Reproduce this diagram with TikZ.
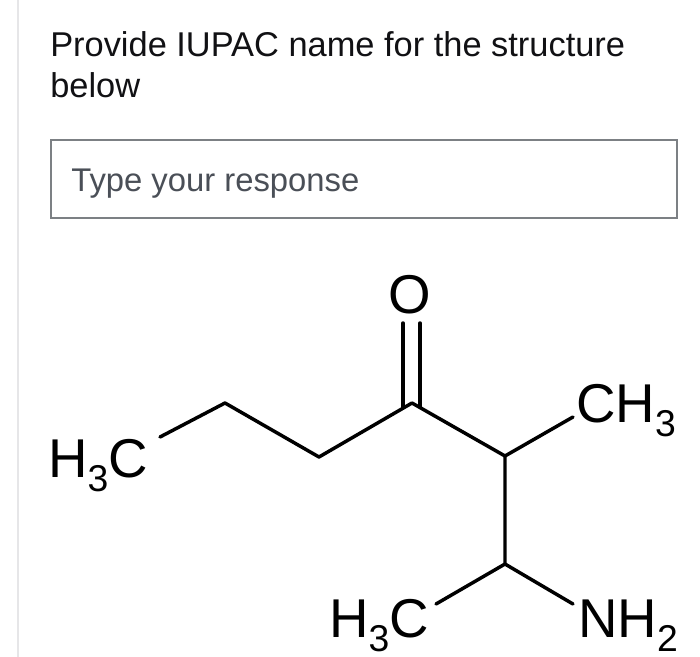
\documentclass[tikz,border=0pt]{standalone}
\usepackage{fontspec}
\setmainfont{Liberation Sans}
\definecolor{inktext}{HTML}{111114}
\definecolor{hint}{HTML}{4A4F57}
\definecolor{boxline}{HTML}{7C8084}
\definecolor{sideline}{HTML}{E6E6E8}
\newcommand{\lowsub}[1]{\raisebox{-10.5pt}{\fontsize{28}{28}\selectfont #1}}
\tikzset{
 px/.style={x=0.75pt,y=-0.75pt},
 bond/.style={draw=black,line width=2.6pt,line cap=round,line join=round},
 atom/.style={inner sep=0pt,text=black,font=\fontsize{41}{41}\selectfont},
 heading/.style={inner sep=0pt,anchor=base west,text=inktext,font=\fontsize{25.8}{30}\selectfont},
}
\begin{document}
\begin{tikzpicture}[px]
\useasboundingbox (0,0) rectangle (700,657);
\fill[white] (0,0) rectangle (700,657);
\draw[sideline,line width=1.6pt] (18,0) -- (18,657);
\node[heading] (h1) at (50,56) {Provide IUPAC name for the structure};
\node[heading] (h2) at (50,97) {below};
\draw[boxline,line width=1.4pt] (51,140) rectangle (677,218);
\node[inner sep=0pt,anchor=base west,text=hint,font=\fontsize{24.6}{30}\selectfont] (hint) at (71,191) {Type your response};
\node[atom] (o) at (410,295) {O};
\node[atom,anchor=base west] (ch3) at (576,422) {CH\lowsub{3}};
\node[atom,anchor=base west] (ch3l) at (48,477) {H\lowsub{3}C};
\node[atom,anchor=base west] (ch3b) at (329,637) {H\lowsub{3}C};
\node[atom,anchor=base west] (nh2) at (578,637) {NH\lowsub{2}};
\coordinate (a) at (225,403);
\coordinate (b) at (319,457);
\coordinate (c) at (412,403);
\coordinate (d) at (505,456);
\coordinate (e) at (505,564);
\coordinate (lend) at (160,437);
\coordinate (mend) at (573,417);
\coordinate (bend) at (436,604);
\coordinate (nend) at (573,604);
\coordinate (o1) at (403,323);
\coordinate (o2) at (420,323);
\coordinate (c1) at (403,407);
\coordinate (c2) at (420,407);
\draw[bond] (lend) -- (a) -- (b) -- (c) -- (d) -- (e);
\draw[bond] (d) -- (mend);
\draw[bond] (e) -- (bend);
\draw[bond] (e) -- (nend);
\draw[bond] (c1) -- (o1);
\draw[bond] (c2) -- (o2);
\end{tikzpicture}
\end{document}
